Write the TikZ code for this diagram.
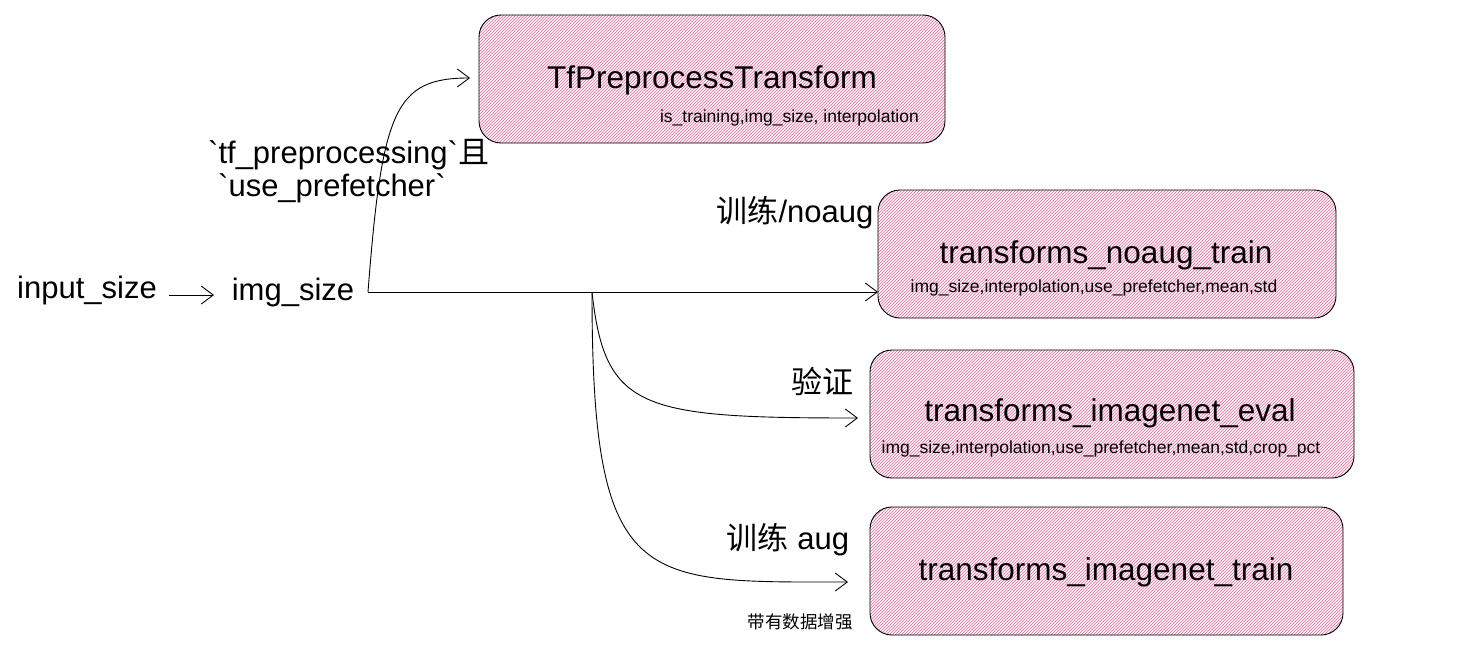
\documentclass[tikz,border=0pt]{standalone}
\usepackage{fontspec}
\setmainfont{Liberation Sans}
\newfontfamily\cjk{Noto Sans CJK SC}
\usetikzlibrary{patterns,arrows.meta}
\definecolor{hatch}{RGB}{225,120,160}
\definecolor{boxbg}{RGB}{253,240,245}
\begin{document}
\begin{tikzpicture}[x=1pt,y=-1pt,
  box/.style={draw=black,line width=0.9pt,rounded corners=22pt,
    pattern=north east lines,pattern color=hatch},
  bg/.style={fill=boxbg,rounded corners=22pt},
  big/.style={font=\fontsize{31.5}{34}\selectfont,inner sep=0pt},
  lbl/.style={font=\fontsize{31}{34}\selectfont,inner sep=0pt},
  small/.style={font=\fontsize{17.5}{19}\selectfont,inner sep=0pt},
  arr/.style={-{Straight Barb[length=12pt,width=18pt]},line width=0.9pt}]
\useasboundingbox (0,0) rectangle (1461,648);
\fill[white] (0,0) rectangle (1461,648);
% boxes
\fill[bg] (479,15) rectangle (945,143);
\fill[bg] (878,190) rectangle (1336,318);
\fill[bg] (870,350) rectangle (1354,478);
\fill[bg] (870,507) rectangle (1343,635);
\draw[box] (479,15) rectangle (945,143);
\draw[box] (878,190) rectangle (1336,318);
\draw[box] (870,350) rectangle (1354,478);
\draw[box] (870,507) rectangle (1343,635);
\node[big] (b1) at (712,80) {TfPreprocessTransform};
\node[small,anchor=east] (b1s) at (919,118) {is\_training,img\_size, interpolation};
\node[big] (b2) at (1106,255) {transforms\_noaug\_train};
\node[small] (b2s) at (1094,288) {img\_size,interpolation,use\_prefetcher,mean,std};
\node[big] (b3) at (1110,413) {transforms\_imagenet\_eval};
\node[small] (b3s) at (1101,449) {img\_size,interpolation,use\_prefetcher,mean,std,crop\_pct};
\node[big] (b4) at (1106,572) {transforms\_imagenet\_train};
% labels
\node[lbl] (inp) at (87,290) {input\_size};
\node[lbl] (img) at (293,292) {img\_size};
\node[lbl,anchor=west] (tf1) at (208,155) {\textasciigrave tf\_preprocessing\textasciigrave{\cjk 且}};
\node[lbl,anchor=west] (tf2) at (218,188) {\textasciigrave use\_prefetcher\textasciigrave};
\node[lbl] (l1) at (795,213) {{\cjk 训练}/noaug};
\node[lbl] (l2) at (822,381) {\cjk 验证};
\node[lbl] (l3) at (788,540) {{\cjk 训练} aug};
\node[small] (l4) at (800,622) {\cjk 带有数据增强};
% connectors
\coordinate (s) at (368,292);
\coordinate (br) at (592,292);
\coordinate (e1) at (470,78);
\coordinate (e2) at (878,292);
\coordinate (e3) at (858,418);
\coordinate (e4) at (848,582);
\draw[arr] (inp.east)++(12,5) coordinate (a0) -- ++(45,0) coordinate (a1);
\draw[arr] (s) .. controls (382,110) and (395,78) .. (e1);
\draw[arr] (s) -- (e2);
\draw[arr] (br) .. controls (605,410) and (640,418) .. (e3);
\draw[arr] (br) .. controls (592,590) and (640,582) .. (e4);
\end{tikzpicture}
\end{document}
